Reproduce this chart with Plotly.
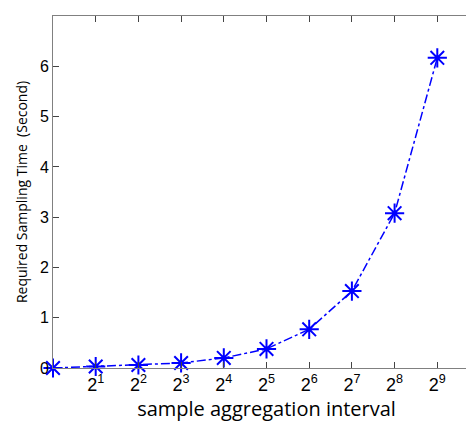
import plotly.graph_objects as go

# data
x_index = [0, 1, 2, 3, 4, 5, 6, 7, 8, 9]
sampling_time = [0.0, 0.03, 0.06, 0.1, 0.2, 0.38, 0.77, 1.53, 3.08, 6.17]
tick_vals = [1, 2, 3, 4, 5, 6, 7, 8, 9]
tick_text = ["2<sup>%d</sup>" % k for k in tick_vals]

fig = go.Figure()
fig.add_trace(
    go.Scatter(
        x=x_index,
        y=sampling_time,
        mode="lines+markers",
        line=dict(color="#0000ff", width=1.5, dash="dashdot"),
        marker=dict(symbol="asterisk-open", size=16, color="#0000ff",
                    line=dict(color="#0000ff", width=2)),
        cliponaxis=False,
        showlegend=False,
    )
)
fig.update_layout(
    width=474,
    height=424,
    margin=dict(l=45, r=2, t=8, b=64),
    plot_bgcolor="#FFFFFF",
    paper_bgcolor="#FFFFFF",
    font_family="Open Sans",
    font_color="#000000",
)
fig.update_xaxes(
    range=[0, 10],
    tickvals=tick_vals,
    ticktext=tick_text,
    ticks="inside",
    ticklen=6,
    tickfont=dict(size=18, family="Arial"),
    showgrid=False,
    zeroline=False,
    showline=True,
    linecolor="#808080",
    mirror="ticks",
    title=dict(text="sample aggregation interval", font=dict(size=20), standoff=4),
)
fig.update_yaxes(
    range=[0, 7.002],
    tickvals=[0, 1, 2, 3, 4, 5, 6, 7],
    ticks="inside",
    ticklen=6,
    tickfont=dict(size=16, family="Arial"),
    showgrid=False,
    zeroline=False,
    showline=True,
    linecolor="#808080",
    mirror="ticks",
    title=dict(text="Required Sampling Time  (Second)", font=dict(size=14), standoff=8),
)
fig.write_html("out.html")
